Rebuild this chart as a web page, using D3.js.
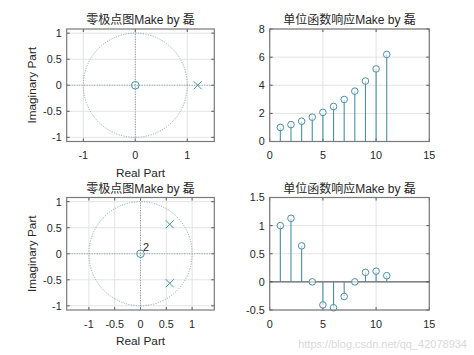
<!DOCTYPE html>
<html><head><meta charset="utf-8">
<script src="https://cdn.jsdelivr.net/npm/d3@7"></script>
<style>
body{margin:0;background:#fff;}
text{font-family:"Liberation Sans","Noto Sans CJK SC",sans-serif;fill:#262626;}
</style></head>
<body><svg id="c" width="474" height="355"></svg>
<script>
// ---- data ----
const nIdx = [1,2,3,4,5,6,7,8,9,10,11];
const hTop = [1, 1.2, 1.44, 1.73, 2.07, 2.49, 2.99, 3.58, 4.30, 5.16, 6.19];
const hBot = [1, 1.13, 0.64, 0, -0.41, -0.46, -0.26, 0, 0.17, 0.19, 0.11];
const zerosTop = [[0, 0]];
const polesTop = [[1.2, 0]];
const zerosBot = [[0, 0]];
const zerosBotMult = ["2"];
const polesBot = [[0.566, 0.566], [0.566, -0.566]];
const pzTitle = "零极点图Make by 磊";
const imTitle = "单位函数响应Make by 磊";
const xTicksTopPZ = [-1, 0, 1];
const xTicksBotPZ = [-1, -0.5, 0, 0.5, 1];
const yTicksPZ = [-1, -0.5, 0, 0.5, 1];
const xTicksStem = [0, 5, 10, 15];
const yTicksTopStem = [0, 2, 4, 6, 8];
const yTicksBotStem = [-0.5, 0, 0.5, 1, 1.5];
const watermark = "https://blog.csdn.net/qq_42078934";

const svg = d3.select("#c");
const C = "#4a8fa5";
const fmt = d => String(d);

function panel(o) {
  const g = svg.append("g");
  const x = d3.scaleLinear().domain(o.xd).range([o.l, o.r]);
  const y = d3.scaleLinear().domain(o.yd).range([o.b, o.t]);
  // grid
  g.selectAll(".gx").data(o.xt).join("line")
    .attr("x1", d => x(d)).attr("x2", d => x(d)).attr("y1", o.t).attr("y2", o.b)
    .attr("stroke", "#e3e3e3").attr("stroke-width", 1);
  g.selectAll(".gy").data(o.yt).join("line")
    .attr("y1", d => y(d)).attr("y2", d => y(d)).attr("x1", o.l).attr("x2", o.r)
    .attr("stroke", "#e3e3e3").attr("stroke-width", 1);
  // ticks inside (all four sides)
  const tl = 3;
  o.xt.forEach(d => {
    g.append("line").attr("x1", x(d)).attr("x2", x(d)).attr("y1", o.b).attr("y2", o.b - tl).attr("stroke", "#555");
    g.append("line").attr("x1", x(d)).attr("x2", x(d)).attr("y1", o.t).attr("y2", o.t + tl).attr("stroke", "#555");
  });
  o.yt.forEach(d => {
    g.append("line").attr("y1", y(d)).attr("y2", y(d)).attr("x1", o.l).attr("x2", o.l + tl).attr("stroke", "#555");
    g.append("line").attr("y1", y(d)).attr("y2", y(d)).attr("x1", o.r).attr("x2", o.r - tl).attr("stroke", "#555");
  });
  // tick labels
  g.selectAll(".xl").data(o.xt).join("text")
    .attr("x", d => x(d)).attr("y", o.b + 17.5).attr("text-anchor", "middle")
    .attr("font-size", 10.8).text(fmt);
  g.selectAll(".yl").data(o.yt).join("text")
    .attr("x", o.l - 5).attr("y", d => y(d) + 3.9).attr("text-anchor", "end")
    .attr("font-size", 10.8).text(fmt);
  // title
  g.append("text").attr("x", (o.l + o.r) / 2).attr("y", o.t - 5).attr("text-anchor", "middle")
    .attr("font-size", 12).text(o.title);
  if (o.xlabel) g.append("text").attr("x", (o.l + o.r) / 2).attr("y", o.b + 35)
    .attr("text-anchor", "middle").attr("font-size", 11.8).text(o.xlabel);
  if (o.ylabel) g.append("text").attr("transform", `translate(${o.l - 31},${(o.t + o.b) / 2}) rotate(-90)`)
    .attr("text-anchor", "middle").attr("font-size", 11.8).text(o.ylabel);
  const inner = g.append("g");
  g.append("rect").attr("x", o.l).attr("y", o.t).attr("width", o.r - o.l).attr("height", o.b - o.t)
    .attr("fill", "none").attr("stroke", "#7a7a7a").attr("stroke-width", 1.2);
  return {g: inner, x, y, o};
}

function pz(p, zeros, poles, mult) {
  const {g, x, y, o} = p;
  // dotted axes lines
  g.append("line").attr("x1", o.l).attr("x2", o.r).attr("y1", y(0)).attr("y2", y(0))
    .attr("stroke", "#7f98a8").attr("stroke-dasharray", "1,1.5");
  g.append("line").attr("y1", o.t).attr("y2", o.b).attr("x1", x(0)).attr("x2", x(0))
    .attr("stroke", "#7f98a8").attr("stroke-dasharray", "1,1.5");
  // unit circle
  g.append("ellipse").attr("cx", x(0)).attr("cy", y(0))
    .attr("rx", x(1) - x(0)).attr("ry", y(0) - y(1))
    .attr("fill", "none").attr("stroke", "#8c9aa6").attr("stroke-dasharray", "1,1.5");
  g.selectAll(".z").data(zeros).join("circle")
    .attr("cx", d => x(d[0])).attr("cy", d => y(d[1])).attr("r", 3.8)
    .attr("fill", "none").attr("stroke", C).attr("stroke-width", 1);
  const s = 4;
  poles.forEach(d => {
    const cx = x(d[0]), cy = y(d[1]);
    g.append("path").attr("d", `M${cx - s},${cy - s}L${cx + s},${cy + s}M${cx - s},${cy + s}L${cx + s},${cy - s}`)
      .attr("stroke", C).attr("stroke-width", 1).attr("fill", "none");
  });
  if (mult) zeros.forEach((d, i) => {
    g.append("text").attr("x", x(d[0]) + 2.5).attr("y", y(d[1]) - 3)
      .attr("font-size", 11).attr("fill", "#111").text(mult[i]);
  });
}

function stem(p, xs, vals) {
  const {g, x, y, o} = p;
  g.append("line").attr("x1", o.l).attr("x2", o.r).attr("y1", y(0)).attr("y2", y(0))
    .attr("stroke", "#444").attr("stroke-width", 1);
  xs.forEach((n, i) => {
    g.append("line").attr("x1", x(n)).attr("x2", x(n)).attr("y1", y(0)).attr("y2", y(vals[i]))
      .attr("stroke", C).attr("stroke-width", 1.1);
    g.append("circle").attr("cx", x(n)).attr("cy", y(vals[i])).attr("r", 3.3)
      .attr("fill", "#fff").attr("fill-opacity", 0.6).attr("stroke", C).attr("stroke-width", 1);
  });
}

const p1 = panel({l: 66.7, r: 214.3, t: 29, b: 141.5, xd: [-1.32, 1.52], yd: [-1.08, 1.08],
  xt: xTicksTopPZ, yt: yTicksPZ, title: pzTitle, xlabel: "Real Part", ylabel: "Imaginary Part"});
pz(p1, zerosTop, polesTop, null);

const p2 = panel({l: 269.7, r: 429.3, t: 29, b: 141.5, xd: [0, 15], yd: [0, 8],
  xt: xTicksStem, yt: yTicksTopStem, title: imTitle});
stem(p2, nIdx, hTop);

const p3 = panel({l: 66.7, r: 214.3, t: 197.5, b: 310, xd: [-1.43, 1.43], yd: [-1.08, 1.08],
  xt: xTicksBotPZ, yt: yTicksPZ, title: pzTitle, xlabel: "Real Part", ylabel: "Imaginary Part"});
pz(p3, zerosBot, polesBot, zerosBotMult);

const p4 = panel({l: 269.7, r: 429.3, t: 197.5, b: 310, xd: [0, 15], yd: [-0.5, 1.5],
  xt: xTicksStem, yt: yTicksBotStem, title: imTitle});
stem(p4, nIdx, hBot);

svg.append("text").attr("x", 467).attr("y", 348).attr("text-anchor", "end")
  .attr("font-size", 11).style("fill", "#d9d9d9").text(watermark);
</script></body></html>
